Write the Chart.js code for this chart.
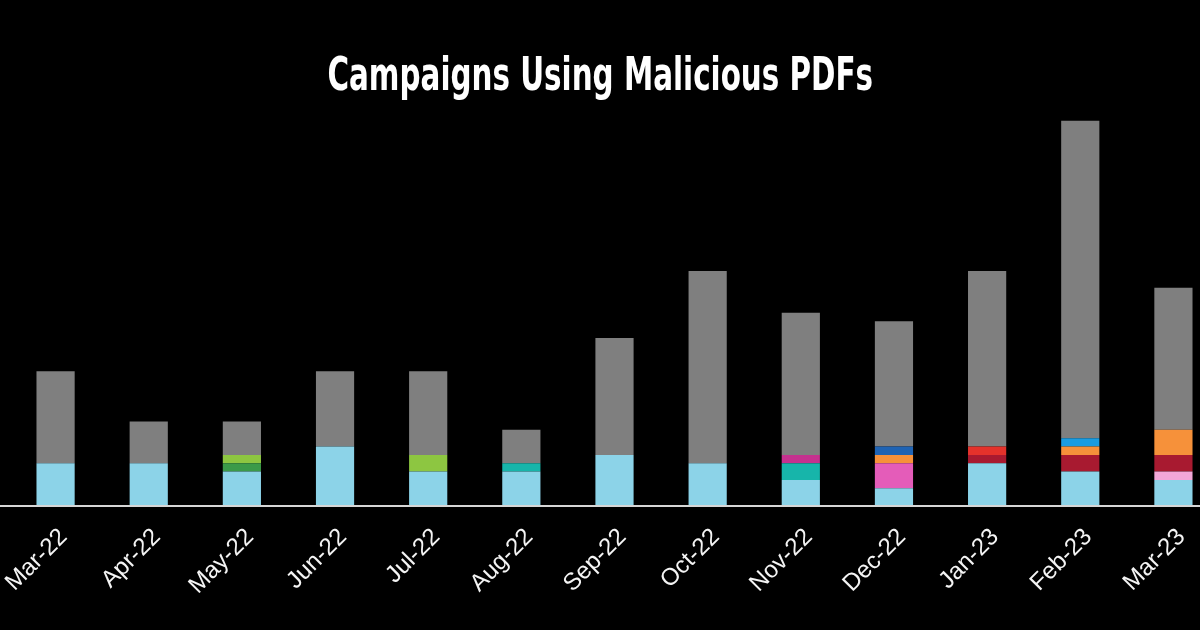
<!DOCTYPE html>
<html>
<head>
<meta charset="utf-8">
<script src="https://cdn.jsdelivr.net/npm/chart.js@4.4.0/dist/chart.umd.min.js"></script>
<style>
html, body { margin: 0; padding: 0; background: #000; width: 1200px; height: 630px; overflow: hidden; }
#wrap { position: relative; width: 1240px; height: 630px; }
#title { position: absolute; top: 51px; left: 0; width: 1200px; text-align: center; color: #fff;
  font: bold 47px "Liberation Sans Narrow", "DejaVu Sans Condensed", sans-serif; line-height: 46px; white-space: nowrap; }
#title span { display: inline-block; transform-origin: center; }
canvas { position: absolute; left: 0; top: 0; }
</style>
</head>
<body>
<div id="wrap">
  <canvas id="my_canvas" width="1240" height="630"></canvas>
  <div id="title"><span>Campaigns Using Malicious PDFs</span></div>
</div>
<script>
// months on the x axis
var months = ['Mar-22', 'Apr-22', 'May-22', 'Jun-22', 'Jul-22', 'Aug-22', 'Sep-22',
              'Oct-22', 'Nov-22', 'Dec-22', 'Jan-23', 'Feb-23', 'Mar-23'];

// stacked segments, bottom to top
var lightBlue  = [5, 5, 4, 7, 4, 4, 6, 5, 3, 2, 5, 4, 3];
var darkGreen  = [0, 0, 1, 0, 0, 0, 0, 0, 0, 0, 0, 0, 0];
var lightGreen = [0, 0, 1, 0, 2, 0, 0, 0, 0, 0, 0, 0, 0];
var teal       = [0, 0, 0, 0, 0, 1, 0, 0, 2, 0, 0, 0, 0];
var magenta    = [0, 0, 0, 0, 0, 0, 0, 0, 1, 0, 0, 0, 0];
var pink       = [0, 0, 0, 0, 0, 0, 0, 0, 0, 3, 0, 0, 0];
var lightPink  = [0, 0, 0, 0, 0, 0, 0, 0, 0, 0, 0, 0, 1];
var darkRed    = [0, 0, 0, 0, 0, 0, 0, 0, 0, 0, 1, 2, 2];
var red        = [0, 0, 0, 0, 0, 0, 0, 0, 0, 0, 1, 0, 0];
var orange     = [0, 0, 0, 0, 0, 0, 0, 0, 0, 1, 0, 1, 3];
var darkBlue   = [0, 0, 0, 0, 0, 0, 0, 0, 0, 1, 0, 0, 0];
var skyBlue    = [0, 0, 0, 0, 0, 0, 0, 0, 0, 0, 0, 1, 0];
var gray       = [11, 5, 4, 9, 10, 4, 14, 23, 17, 15, 21, 38, 17];

var title = document.querySelector('#title span');
title.style.transform = 'scaleX(' + (546 / title.offsetWidth) + ')';

function ds(data, color) {
    return { data: data, backgroundColor: color, borderWidth: 0,
             barPercentage: 1, categoryPercentage: 0.41 };
}

var chartdata = {
    labels: months,
    datasets: [
        ds(lightBlue, '#8cd3e8'),
        ds(darkGreen, '#3b9a49'),
        ds(lightGreen, '#8dc641'),
        ds(teal, '#17b5aa'),
        ds(magenta, '#c5318f'),
        ds(pink, '#e45cb9'),
        ds(lightPink, '#f3a7d8'),
        ds(darkRed, '#a81a30'),
        ds(red, '#e4322b'),
        ds(orange, '#f6913a'),
        ds(darkBlue, '#1f63b3'),
        ds(skyBlue, '#1a9ce0'),
        ds(gray, '#7f7f7f')
    ]
};

// white baseline across the whole picture
var baseline = {
    id: 'baseline',
    afterDatasetsDraw: function(chart) {
        var ctx = chart.ctx;
        var y = chart.scales.y.getPixelForValue(0) + 1;
        ctx.save();
        ctx.strokeStyle = '#d6d6d6';
        ctx.lineWidth = 2;
        ctx.beginPath();
        ctx.moveTo(0, y);
        ctx.lineTo(1240, y);
        ctx.stroke();
        ctx.restore();
    }
};

var ctx = document.getElementById('my_canvas');
var barGraph = new Chart(ctx, {
    type: 'bar',
    data: chartdata,
    plugins: [baseline],
    options: {
        responsive: false,
        animation: false,
        layout: { padding: { left: 9, right: 20, top: 104 } },
        plugins: { legend: { display: false }, tooltip: { enabled: false } },
        scales: {
            x: {
                stacked: true,
                grid: { display: false },
                border: { display: false },
                ticks: {
                    color: '#f4f4f4',
                    font: { family: 'Liberation Sans', size: 24 },
                    minRotation: 45,
                    maxRotation: 45,
                    padding: 10,
                    labelOffset: 8
                },
                afterFit: function(scale) {
                    scale.height = 125;
                    scale.paddingLeft = 0;
                    scale.paddingRight = 0;
                }
            },
            y: { stacked: true, display: false, min: 0, max: 48 }
        }
    }
});
</script>
</body>
</html>
